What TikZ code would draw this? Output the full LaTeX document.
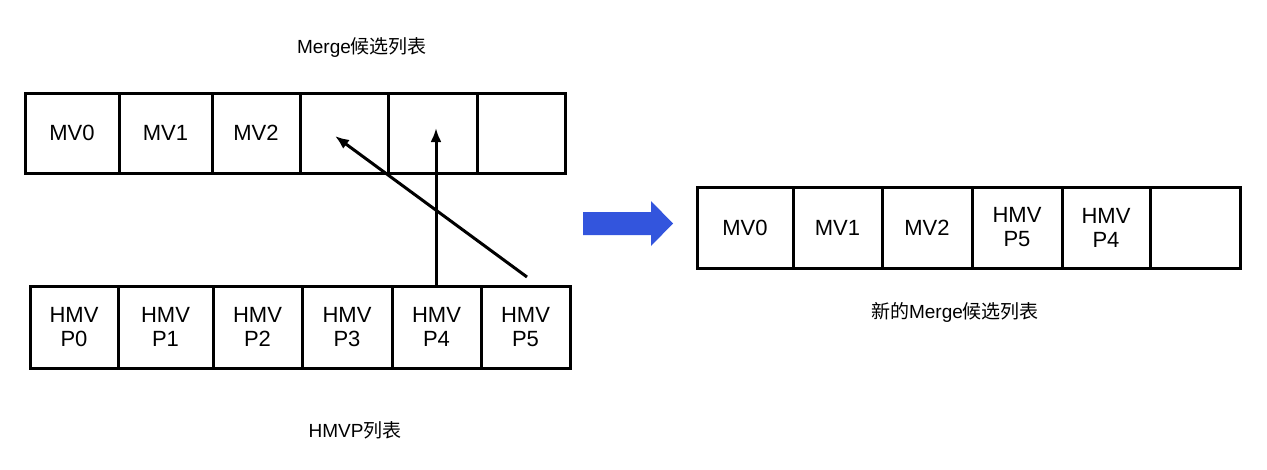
\documentclass[tikz,border=0pt]{standalone}
\usepackage{fontspec}
\setmainfont{Liberation Sans}
\newfontfamily\cjk{Noto Sans CJK SC}
\begin{document}
\begin{tikzpicture}[x=1pt,y=-1pt,
  cell/.style={draw,line width=3pt,minimum height=80pt,inner sep=0pt,align=center,font=\fontsize{22}{24}\selectfont},
  lbl/.style={font=\fontsize{19}{21}\selectfont},
  arr/.style={line width=3pt,-{Latex[length=14pt,width=11pt]}}]
\useasboundingbox (0,0) rectangle (1267,469);
\usetikzlibrary{arrows.meta}
% top row
\foreach \n/\a/\b/\t in {t0/25/119/MV0,t1/119/212/MV1,t2/212/300/MV2,t3/300/388/{},t4/388/477/{},t5/477/565/{}}
  \node[cell,minimum width={\b-\a}] (\n) at ({(\a+\b)/2},133) {\t};
% bottom row
\foreach \n/\a/\b/\t in {b0/30/118/{HMV\\P0},b1/118/213/{HMV\\P1},b2/213/302/{HMV\\P2},b3/302/392/{HMV\\P3},b4/392/481/{HMV\\P4},b5/481/570/{HMV\\P5}}
  \node[cell,minimum width={\b-\a},minimum height=82pt] (\n) at ({(\a+\b)/2},327) {\t};
% right row
\foreach \n/\a/\b/\t in {r0/697/793/MV0,r1/793/882/MV1,r2/882/972/MV2,r3/972/1062/{HMV\\P5},r4/1062/1150/{HMV\\P4},r5/1150/1240/{}}
  \node[cell,minimum width={\b-\a},minimum height=81pt] (\n) at ({(\a+\b)/2},227.5) {\t};
\node[lbl] (l1) at (362,47) {Merge{\cjk 候选列表}};
\node[lbl] (l2) at (355,430) {HMVP{\cjk 列表}};
\node[lbl] (l3) at (955,312) {{\cjk 新的}Merge{\cjk 候选列表}};
\coordinate (s4) at (436,285); \coordinate (e4) at (436,128);
\coordinate (s5) at (527,277); \coordinate (e5) at (335,136);
\draw[arr] (s4) -- (e4);
\draw[arr] (s5) -- (e5);
\fill[fill={rgb,255:red,51;green,85;blue,221}] (583,212) -- (651,212) -- (651,201) -- (673,223.5) -- (651,246) -- (651,235) -- (583,235) -- cycle;
\end{tikzpicture}
\end{document}
